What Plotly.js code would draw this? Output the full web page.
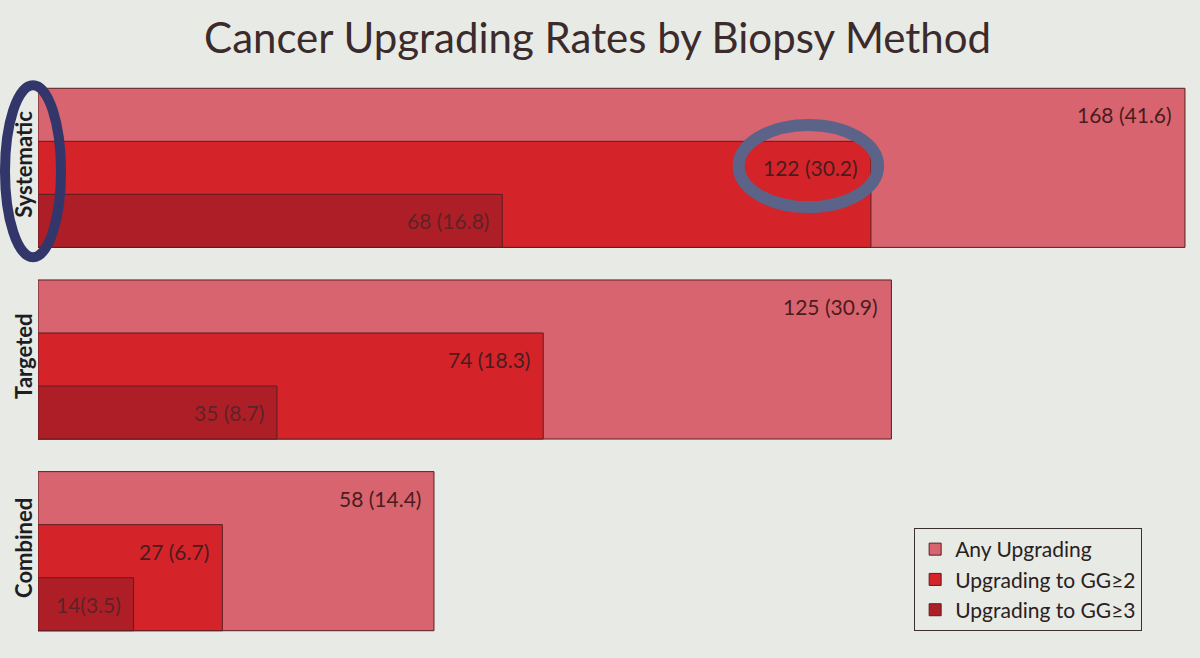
<!DOCTYPE html>
<html>
<head>
<meta charset="utf-8">
<script src="https://cdn.plot.ly/plotly-3.0.1.min.js"></script>
<style>html,body{margin:0;padding:0;background:#e7eae5;}#chart{width:1200px;height:658px;}</style>
</head>
<body>
<div id="chart"></div>
<script>
const categories = ["Systematic", "Targeted", "Combined"];
const anyUpgrading = [168, 125, 58];
const anyPct = [41.6, 30.9, 14.4];
const gg2 = [122, 74, 27];
const gg2Pct = [30.2, 18.3, 6.7];
const gg3 = [68, 35, 14];
const gg3Pct = [16.8, 8.7, 3.5];
const seriesNames = ["Any Upgrading", "Upgrading to GG\u22652", "Upgrading to GG\u22653"];

const pos = categories.map((c, i) => i);
const W = 0.83;
const band = W / 3;
const lineStyle = {color: "#5a1e22", width: 1};

const traces = [
  {type: "bar", orientation: "h", name: seriesNames[0], x: anyUpgrading, y: pos,
   width: W, offset: -W / 2, marker: {color: "#d8646f", line: lineStyle}, hoverinfo: "x"},
  {type: "bar", orientation: "h", name: seriesNames[1], x: gg2, y: pos,
   width: 2 * band, offset: -W / 2 + band, marker: {color: "#d4242a", line: lineStyle}, hoverinfo: "x"},
  {type: "bar", orientation: "h", name: seriesNames[2], x: gg3, y: pos,
   width: band, offset: -W / 2 + 2 * band, marker: {color: "#ae1e27", line: lineStyle}, hoverinfo: "x"}
];

const labelFont = {family: "Lato, 'Open Sans', sans-serif", size: 21, color: "#4a1c1e"};
const annotations = [];
pos.forEach((p, i) => {
  annotations.push({x: anyUpgrading[i], y: p - W / 2 + band / 2, xref: "x", yref: "y",
    text: anyUpgrading[i] + " (" + anyPct[i].toFixed(1) + ")", showarrow: false,
    xanchor: "right", xshift: -11, font: labelFont});
  annotations.push({x: gg2[i], y: p - W / 2 + 1.5 * band, xref: "x", yref: "y",
    text: gg2[i] + " (" + gg2Pct[i].toFixed(1) + ")", showarrow: false,
    xanchor: "right", xshift: -11, font: labelFont});
  annotations.push({x: gg3[i], y: p - W / 2 + 2.5 * band, xref: "x", yref: "y",
    text: (i === 2 ? gg3[i] + "(" : gg3[i] + " (") + gg3Pct[i].toFixed(1) + ")", showarrow: false,
    xanchor: "right", xshift: -11, font: Object.assign({}, labelFont, {color: "#5e2226"})});
});

const layout = {
  width: 1200, height: 658,
  paper_bgcolor: "#e7eae5", plot_bgcolor: "rgba(0,0,0,0)",
  margin: {l: 38, r: 0, t: 72, b: 11},
  barmode: "overlay",
  title: {text: "Cancer Upgrading Rates by Biopsy Method", xref: "container", x: 0.498, y: 0.942,
          yanchor: "middle", font: {family: "Lato, 'Open Sans', sans-serif", size: 42, color: "#3b2b2c"}},
  xaxis: {range: [0, 170.2], visible: false, showgrid: false, zeroline: false, fixedrange: true},
  yaxis: {range: [2.5, -0.5], tickvals: pos, ticktext: categories.map(c => "<b>" + c + "</b>"),
          tickangle: -90, showgrid: false, zeroline: false, showline: false, ticks: "",
          tickfont: {family: "Lato, 'Open Sans', sans-serif", size: 22, color: "#1e1e22"}, ticklabelstandoff: 1},
  legend: {x: 0.754, y: 0.207, xanchor: "left", yanchor: "top", bgcolor: "rgba(0,0,0,0)",
           bordercolor: "#3a3030", borderwidth: 1, traceorder: "normal",
           entrywidth: 270, entrywidthmode: "pixels",
           font: {family: "Lato, 'Open Sans', sans-serif", size: 21, color: "#2a2020"}},
  annotations: annotations,
  shapes: [
    {type: "circle", xref: "paper", yref: "paper", x0: -0.0284, x1: 0.0198, y0: 0.678, y1: 0.977,
     line: {color: "#33366a", width: 10}},
    {type: "circle", xref: "paper", yref: "paper", x0: 0.603, x1: 0.723, y0: 0.765, y1: 0.908,
     line: {color: "#5c6388", width: 12}}
  ],
  showlegend: true
};

Plotly.newPlot("chart", traces, layout, {displayModeBar: false, staticPlot: true});
</script>
</body>
</html>
